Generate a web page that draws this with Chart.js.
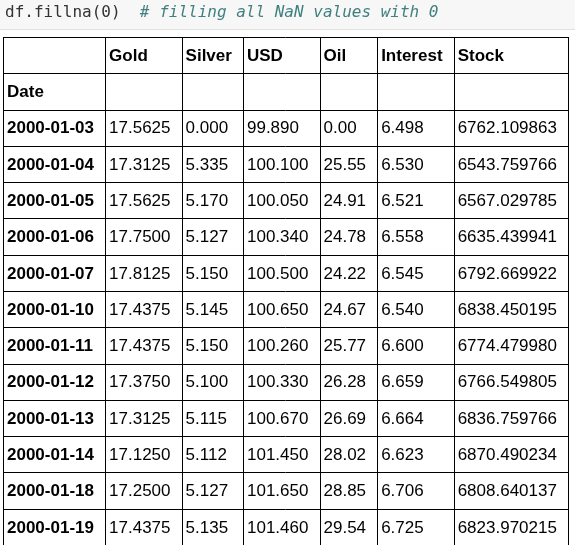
<!DOCTYPE html>
<html>
<head>
<meta charset="utf-8">
<script src="https://cdn.jsdelivr.net/npm/chart.js@4"></script>
<style>
  html, body { margin: 0; padding: 0; background: #fff; }
  #wrap { width: 575px; height: 545px; }
</style>
</head>
<body>
<div id="wrap"><canvas id="tableChart"></canvas></div>
<script>
const columns = ['Gold', 'Silver', 'USD', 'Oil', 'Interest', 'Stock'];
const indexName = 'Date';
const dates = ['2000-01-03', '2000-01-04', '2000-01-05', '2000-01-06', '2000-01-07', '2000-01-10',
    '2000-01-11', '2000-01-12', '2000-01-13', '2000-01-14', '2000-01-18', '2000-01-19'];
const gold = ['17.5625', '17.3125', '17.5625', '17.7500', '17.8125', '17.4375', '17.4375', '17.3750', '17.3125', '17.1250', '17.2500', '17.4375'];
const silver = ['0.000', '5.335', '5.170', '5.127', '5.150', '5.145', '5.150', '5.100', '5.115', '5.112', '5.127', '5.135'];
const usd = ['99.890', '100.100', '100.050', '100.340', '100.500', '100.650', '100.260', '100.330', '100.670', '101.450', '101.650', '101.460'];
const oil = ['0.00', '25.55', '24.91', '24.78', '24.22', '24.67', '25.77', '26.28', '26.69', '28.02', '28.85', '29.54'];
const interest = ['6.498', '6.530', '6.521', '6.558', '6.545', '6.540', '6.600', '6.659', '6.664', '6.623', '6.706', '6.725'];
const stock = ['6762.109863', '6543.759766', '6567.029785', '6635.439941', '6792.669922', '6838.450195',
    '6774.479980', '6766.549805', '6836.759766', '6870.490234', '6808.640137', '6823.970215'];

const seriesList = [gold, silver, usd, oil, interest, stock];
const rowLabels = ['__header', indexName].concat(dates);

const tablePlugin = {
    id: 'tablePlugin',
    afterDraw: chart => {
        const ctx = chart.ctx;
        const yAxis = chart.scales.y;
        const area = chart.chartArea;
        const pad = 4;
        const font = '17px "Liberation Sans", Arial, sans-serif';
        const bold = 'bold ' + font;

        ctx.save();
        // code cell
        ctx.fillStyle = '#f7f7f7';
        ctx.fillRect(0, 0, chart.width, 29);
        ctx.fillStyle = '#e0e0e0';
        ctx.fillRect(0, 29, chart.width, 1);
        ctx.textBaseline = 'middle';
        ctx.font = '16px "DejaVu Sans Mono", monospace';
        ctx.fillStyle = '#333';
        const code = 'df.fillna(0)  ';
        ctx.fillText(code, 5, 13);
        const cw = ctx.measureText(code).width;
        ctx.font = 'italic 16px "DejaVu Sans Mono", monospace';
        ctx.fillStyle = '#408080';
        ctx.fillText('# filling all NaN values with 0', 5 + cw, 13);

        // column widths from text
        const widths = [];
        ctx.font = bold;
        let w0 = ctx.measureText(indexName).width;
        dates.forEach(d => { w0 = Math.max(w0, ctx.measureText(d).width); });
        widths.push(w0 + 2 * pad);
        columns.forEach((c, i) => {
            ctx.font = bold;
            let w = ctx.measureText(c).width;
            ctx.font = font;
            seriesList[i].forEach(v => { w = Math.max(w, ctx.measureText(v).width); });
            widths.push(w + 2 * pad);
        });
        const total = widths.reduce((a, b) => a + b, 0);
        const extra = ((area.right - area.left) - total) / widths.length;
        const xs = [area.left];
        widths.forEach(w => xs.push(xs[xs.length - 1] + w + extra));

        // text
        rowLabels.forEach((lab, r) => {
            const yc = yAxis.getPixelForValue(r) + 1;
            ctx.fillStyle = '#000';
            if (r === 0) {
                ctx.font = bold;
                columns.forEach((c, i) => ctx.fillText(c, xs[i + 1] + pad, yc));
            } else if (r === 1) {
                ctx.font = bold;
                ctx.fillText(indexName, xs[0] + pad, yc);
            } else {
                ctx.font = bold;
                ctx.fillText(lab, xs[0] + pad, yc);
                ctx.font = font;
                seriesList.forEach((s, i) => ctx.fillText(s[r - 2], xs[i + 1] + pad, yc));
            }
        });

        // grid
        ctx.strokeStyle = '#000';
        ctx.lineWidth = 1;
        ctx.beginPath();
        xs.forEach(x => { ctx.moveTo(Math.round(x) + 0.5, area.top); ctx.lineTo(Math.round(x) + 0.5, area.bottom); });
        for (let r = 0; r <= rowLabels.length; r++) {
            const y = Math.round(yAxis.getPixelForValue(r - 0.5)) + 0.5;
            ctx.moveTo(area.left, y);
            ctx.lineTo(area.right, y);
        }
        ctx.stroke();
        ctx.restore();
    }
};

new Chart(document.getElementById('tableChart'), {
    type: 'scatter',
    data: { labels: rowLabels, datasets: [{ data: [] }] },
    options: {
        responsive: true,
        maintainAspectRatio: false,
        animation: false,
        layout: { padding: { top: 37, left: 3, right: 7, bottom: 0 } },
        scales: {
            x: { type: 'linear', display: false, min: 0, max: 1 },
            y: { type: 'category', labels: rowLabels, offset: true, display: false }
        },
        plugins: { legend: { display: false }, tooltip: { enabled: false } }
    },
    plugins: [tablePlugin]
});
</script>
</body>
</html>
